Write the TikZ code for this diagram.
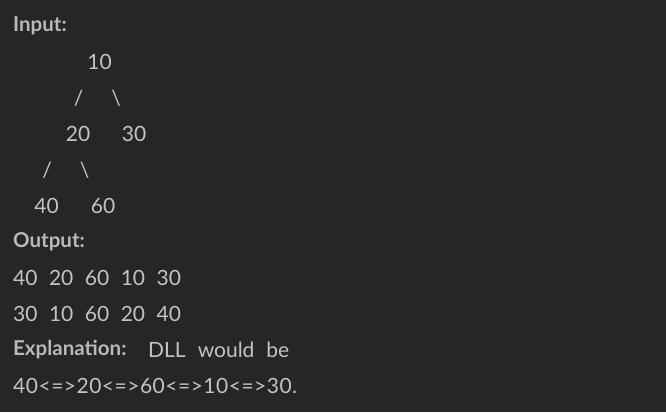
\documentclass[tikz,border=0pt]{standalone}
\usepackage{fontspec}
\setmainfont{Lato}
\definecolor{bg}{RGB}{38,38,38}
\definecolor{fg}{RGB}{195,195,195}
\definecolor{lab}{RGB}{185,185,185}
\begin{document}
\begin{tikzpicture}[x=1pt,y=-1pt,
  txt/.style={inner sep=0pt,text=fg,font=\fontsize{21}{25}\selectfont},
  lbl/.style={txt,text=lab,font=\fontsize{20.5}{25}\selectfont\bfseries,anchor=west},
  row/.style={txt,anchor=west}]
\fill[bg] (0,0) rectangle (666,412);
\useasboundingbox (0,0) rectangle (666,412);
\node[lbl] (inp) at (13,26) {Input:};
\node[txt] (n10) at (99.5,62) {10};
\node[txt] (s1) at (78.5,98) {/};
\node[txt] (s2) at (116,98) {\textbackslash};
\node[txt] (n20) at (78,134) {20};
\node[txt] (n30) at (134,134) {30};
\node[txt] (s3) at (47,170) {/};
\node[txt] (s4) at (84.5,170) {\textbackslash};
\node[txt] (n40) at (46.5,206) {40};
\node[txt] (n60) at (103,206) {60};
\node[lbl] (out) at (13,242) {Output:};
\node[row] (l1) at (13,278) {40\hspace{11.5pt}20\hspace{11.5pt}60\hspace{11.5pt}10\hspace{11.5pt}30};
\node[row] (l2) at (13,314) {30\hspace{11.5pt}10\hspace{11.5pt}60\hspace{11.5pt}20\hspace{11.5pt}40};
\node[lbl] (exp) at (13,350) {Explanation:};
\node[row] (dll) at (148,350) {DLL\hspace{12pt}would\hspace{12pt}be};
\node[row] (seq) at (13,386) {\addfontfeatures{LetterSpace=2.4}40<=>20<=>60<=>10<=>30.};
\end{tikzpicture}
\end{document}
